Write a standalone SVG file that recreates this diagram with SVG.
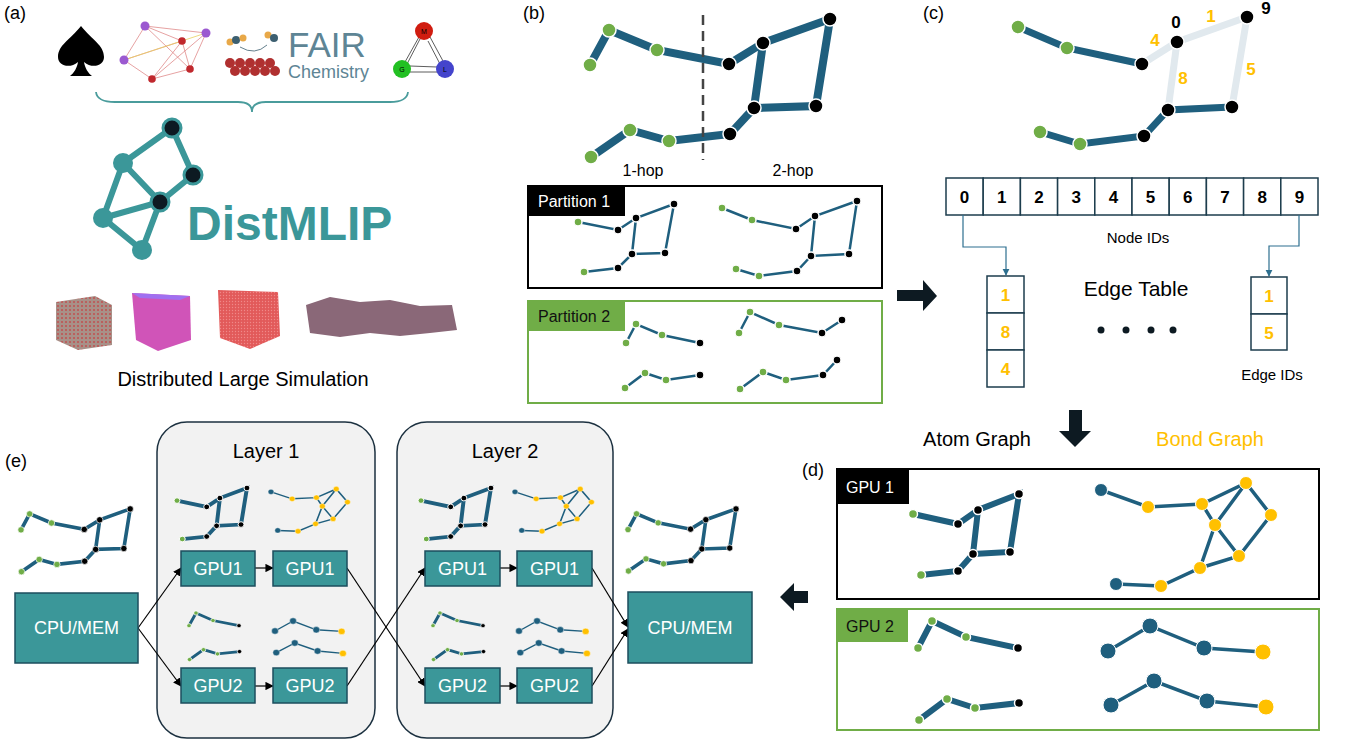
<svg xmlns="http://www.w3.org/2000/svg" xmlns:xlink="http://www.w3.org/1999/xlink" width="1360" height="742" viewBox="0 0 1360 742">
<style>
text{font-family:"Liberation Sans",Arial,sans-serif}
.e{stroke:#1f5f7e;fill:none;stroke-linecap:butt}
.le{stroke:#e1e9ee;fill:none}
.g{fill:#70ad47;stroke:#fff;stroke-width:1.5}
.k{fill:#000;stroke:#fff;stroke-width:1.5}
.y{fill:#ffc000;stroke:#fff;stroke-width:1}
.bn{fill:#1f5f7e;stroke:#fff;stroke-width:1}
.box{fill:#3b9799;stroke:#1d4e5e;stroke-width:1.5}
.bt{fill:#fff;font-size:18px;text-anchor:middle}
.lay{fill:#f2f2f2;stroke:#1c3140;stroke-width:1.5}
.cell{fill:#fff;stroke:#1d3d4d;stroke-width:1.5}
.num{font-size:17px;font-weight:bold;text-anchor:middle}
.on{fill:#ffc000}
.ar{stroke:#000;stroke-width:1.2;fill:none}
</style>
<defs>
<marker id="ah" viewBox="0 0 10 10" refX="9" refY="5" markerWidth="7" markerHeight="7" orient="auto"><path d="M0,0L10,5L0,10z" fill="#000"/></marker>
<marker id="ahb" viewBox="0 0 10 10" refX="9" refY="5" markerWidth="6" markerHeight="6" orient="auto"><path d="M0,0L10,5L0,10z" fill="#2d6f8f"/></marker>
<pattern id="dots1" width="4" height="4" patternUnits="userSpaceOnUse"><rect width="4" height="4" fill="#a89088"/><circle cx="2" cy="2" r="1" fill="#c05050"/></pattern>
<pattern id="dots3" width="3" height="3" patternUnits="userSpaceOnUse"><rect width="3" height="3" fill="#e25a5a"/><circle cx="1.5" cy="1.5" r="0.7" fill="#f08888"/></pattern>
<g id="full">
<polyline class="e" stroke-width="8" points="590,65 609,30 657,50 729,64 763,43 830,19 816,106 754,108 763,43"/>
<polyline class="e" stroke-width="8" points="754,108 730,134 669,141 630,130 591,157"/>
<circle class="g" cx="590" cy="65" r="7"/><circle class="g" cx="609" cy="30" r="7"/><circle class="g" cx="657" cy="50" r="7"/>
<circle class="k" cx="729" cy="64" r="7"/><circle class="k" cx="763" cy="43" r="7"/><circle class="k" cx="830" cy="19" r="7"/><circle class="k" cx="816" cy="106" r="7"/><circle class="k" cx="754" cy="108" r="7"/><circle class="k" cx="730" cy="134" r="7"/>
<circle class="g" cx="669" cy="141" r="7"/><circle class="g" cx="630" cy="130" r="7"/><circle class="g" cx="591" cy="157" r="7"/>
</g>
<g id="atom1">
<polyline class="e" stroke-width="6" points="913,514 958,524 978,510 1019,494 1010,552 973,554 978,510"/>
<polyline class="e" stroke-width="6" points="973,554 958,571 921,575"/>
<circle class="g" cx="913" cy="514" r="4.5"/><circle class="g" cx="921" cy="575" r="4.5"/>
<circle class="k" cx="958" cy="524" r="4.5"/><circle class="k" cx="978" cy="510" r="4.5"/><circle class="k" cx="1019" cy="494" r="4.5"/><circle class="k" cx="1010" cy="552" r="4.5"/><circle class="k" cx="973" cy="554" r="4.5"/><circle class="k" cx="958" cy="571" r="4.5"/>
</g>
<g id="bond1">
<path class="e" stroke-width="3.5" d="M1101,490L1148,507L1202,504L1246,483L1271,515L1239,556L1200,568L1161,586L1116,584M1202,504L1215,525L1246,483M1215,525L1239,556M1215,525L1200,568"/>
<circle class="bn" cx="1101" cy="490" r="6.5"/><circle class="bn" cx="1116" cy="584" r="6.5"/>
<circle class="y" cx="1148" cy="507" r="6.5"/><circle class="y" cx="1202" cy="504" r="6.5"/><circle class="y" cx="1246" cy="483" r="6.5"/><circle class="y" cx="1271" cy="515" r="6.5"/><circle class="y" cx="1215" cy="525" r="6.5"/><circle class="y" cx="1239" cy="556" r="6.5"/><circle class="y" cx="1200" cy="568" r="6.5"/><circle class="y" cx="1161" cy="586" r="6.5"/>
</g>
<g id="atom2">
<polyline class="e" stroke-width="6" points="918,648 932,621 966,637 1018,648"/>
<polyline class="e" stroke-width="6" points="919,720 947,699 975,708 1019,703"/>
<circle class="g" cx="918" cy="648" r="4.5"/><circle class="g" cx="932" cy="621" r="4.5"/><circle class="g" cx="966" cy="637" r="4.5"/><circle class="k" cx="1018" cy="648" r="4.5"/>
<circle class="g" cx="919" cy="720" r="4.5"/><circle class="g" cx="947" cy="699" r="4.5"/><circle class="g" cx="975" cy="708" r="4.5"/><circle class="k" cx="1019" cy="703" r="4.5"/>
</g>
<g id="bond2">
<polyline class="e" stroke-width="3.5" points="1108,651 1150,626 1204,648 1263,652"/>
<polyline class="e" stroke-width="3.5" points="1111,705 1154,681 1207,701 1266,707"/>
<circle class="bn" cx="1108" cy="651" r="8"/><circle class="bn" cx="1150" cy="626" r="8"/><circle class="bn" cx="1204" cy="648" r="8"/><circle class="y" cx="1263" cy="652" r="8"/>
<circle class="bn" cx="1111" cy="705" r="8"/><circle class="bn" cx="1154" cy="681" r="8"/><circle class="bn" cx="1207" cy="701" r="8"/><circle class="y" cx="1266" cy="707" r="8"/>
</g>
</defs>

<g id="panel-a">
<text x="4" y="19" font-size="18">(a)</text>
<path d="M81,26C70,40 58,45 58,57C58,66 70,69 78,62C77,68 74,73 70,76L92,76C88,73 85,68 84,62C92,69 104,66 104,57C104,45 92,40 81,26Z" fill="#000"/>
<g stroke-width="0.8">
<path d="M145,26L206,33M145,26L182,41M145,26L190,69M206,33L152,79M206,33L190,69M124,60L182,41M124,60L152,79M182,41L152,79M182,41L190,69M152,79L190,69M145,26L124,60" stroke="#e08a8a"/>
<path d="M124,60L206,33" stroke="#e8d060"/>
<g fill="#9b59d0"><circle cx="145" cy="26" r="4.5"/><circle cx="206" cy="33" r="4.5"/><circle cx="124" cy="60" r="4.5"/></g>
<g fill="#c0282d"><circle cx="182" cy="41" r="3.8"/><circle cx="190" cy="69" r="3.8"/><circle cx="152" cy="79" r="3.8"/></g>
</g>
<g>
<g fill="#b03030"><circle cx="230" cy="63" r="5"/><circle cx="240" cy="63" r="5"/><circle cx="250" cy="63" r="5"/><circle cx="260" cy="63" r="5"/><circle cx="270" cy="63" r="5"/><circle cx="235" cy="71" r="5"/><circle cx="245" cy="71" r="5"/><circle cx="255" cy="71" r="5"/><circle cx="265" cy="71" r="5"/><circle cx="275" cy="71" r="5"/></g>
<circle cx="230" cy="42" r="3.5" fill="#e8a848"/><circle cx="236" cy="40" r="4" fill="#3c5f70"/><circle cx="243" cy="38" r="3.5" fill="#e8a848"/>
<circle cx="268" cy="35" r="3.5" fill="#e8a848"/><circle cx="274" cy="38" r="4" fill="#3c5f70"/>
<path d="M240,47Q255,56 267,45" stroke="#3c5f70" fill="none" stroke-width="0.8"/>
<text x="288" y="57" font-size="35" fill="#5e8595">FAIR</text>
<text x="288" y="78" font-size="18" fill="#5e8595">Chemistry</text>
</g>
<g>
<path d="M419,37L405,62M407,64L420,39M430,37L443,61M428,41L440,64M410,66L437,67M437,72L410,72" stroke="#333" stroke-width="0.8"/>
<circle cx="424" cy="31" r="9" fill="#d01c10"/><text x="424" y="34" font-size="7" text-anchor="middle">M</text>
<circle cx="402" cy="69" r="9" fill="#22c022"/><text x="402" y="72" font-size="7" text-anchor="middle">G</text>
<circle cx="445" cy="69" r="9" fill="#4444cc"/><text x="445" y="72" font-size="7" text-anchor="middle">L</text>
</g>
<path d="M96,92Q97,102 115,102L238,102Q252,102 252,112Q252,102 266,102L390,102Q407,102 408,92" fill="none" stroke="#4a9c9c" stroke-width="1.8"/>
<g id="logo">
<path d="M172,128L123,163L103,218L142,250L160,202L193,175L172,128M123,163L160,202L103,218" fill="none" stroke="#3b9799" stroke-width="6"/>
<circle cx="123" cy="163" r="10" fill="#3b9799"/><circle cx="103" cy="218" r="10" fill="#3b9799"/><circle cx="142" cy="250" r="10" fill="#3b9799"/>
<circle cx="172" cy="128" r="9" fill="#0d1a22" stroke="#3b9799" stroke-width="3"/><circle cx="193" cy="175" r="9" fill="#0d1a22" stroke="#3b9799" stroke-width="3"/><circle cx="160" cy="202" r="9" fill="#0d1a22" stroke="#3b9799" stroke-width="3"/>
<text x="187" y="240" font-size="48" font-weight="bold" fill="#3b9799">DistMLIP</text>
</g>
<g>
<polygon points="56,302 95,296 112,305 112,345 78,350 56,340" fill="url(#dots1)"/>
<polygon points="132,293 190,296 191,340 158,351 136,340" fill="#d054b8"/>
<polygon points="132,293 190,296 180,300 140,298" fill="#a070f0"/>
<polygon points="218,290 278,292 280,336 250,349 220,338" fill="url(#dots3)"/>
<path d="M306,305L330,297L360,302L390,300L420,306L452,305L457,330L430,333L400,336L370,333L340,337L310,333Z" fill="#8a6878"/>
</g>
<text x="243" y="386" font-size="20" text-anchor="middle">Distributed Large Simulation</text>
</g>

<g id="panel-b">
<text x="523" y="19" font-size="18">(b)</text>
<use xlink:href="#full"/>
<line x1="703" y1="15" x2="703" y2="160" stroke="#444" stroke-width="2.5" stroke-dasharray="10,6"/>
<text x="643" y="176" font-size="16" text-anchor="middle">1-hop</text>
<text x="793" y="176" font-size="16" text-anchor="middle">2-hop</text>
<rect x="528" y="186" width="354" height="102" fill="#fff" stroke="#000" stroke-width="2"/>
<rect x="528" y="186" width="97" height="30" fill="#000"/>
<text x="538" y="207" font-size="16" fill="#fff">Partition 1</text>
<g class="e" stroke-width="2.5">
<polyline points="578,222 618,230 636,218 674,204 665,253 632,254 636,218"/><polyline points="632,254 618,268 584,272"/>
<polyline points="722,208 752,220 796,229 815,216 857,201 849,254 811,256 815,216"/><polyline points="811,256 797,271 759,276 736,269"/>
</g>
<g>
<circle class="g" cx="578" cy="222" r="4"/><circle class="k" cx="618" cy="230" r="4"/><circle class="k" cx="636" cy="218" r="4"/><circle class="k" cx="674" cy="204" r="4"/><circle class="k" cx="665" cy="253" r="4"/><circle class="k" cx="632" cy="254" r="4"/><circle class="k" cx="618" cy="268" r="4"/><circle class="g" cx="584" cy="272" r="4"/>
<circle class="g" cx="722" cy="208" r="4"/><circle class="g" cx="752" cy="220" r="4"/><circle class="k" cx="796" cy="229" r="4"/><circle class="k" cx="815" cy="216" r="4"/><circle class="k" cx="857" cy="201" r="4"/><circle class="k" cx="849" cy="254" r="4"/><circle class="k" cx="811" cy="256" r="4"/><circle class="k" cx="797" cy="271" r="4"/><circle class="g" cx="759" cy="276" r="4"/><circle class="g" cx="736" cy="269" r="4"/>
</g>
<rect x="528" y="301" width="354" height="102" fill="#fff" stroke="#70ad47" stroke-width="2"/>
<rect x="528" y="301" width="97" height="30" fill="#70ad47"/>
<text x="538" y="322" font-size="16" fill="#111">Partition 2</text>
<g class="e" stroke-width="2.5">
<polyline points="626,343 636,324 662,335 700,343"/><polyline points="625,388 645,373 666,380 700,375"/>
<polyline points="739,333 750,312 779,325 822,333 842,320"/><polyline points="740,389 763,372 786,380 823,375 837,360"/>
</g>
<g>
<circle class="g" cx="626" cy="343" r="4"/><circle class="g" cx="636" cy="324" r="4"/><circle class="g" cx="662" cy="335" r="4"/><circle class="k" cx="700" cy="343" r="4"/>
<circle class="g" cx="625" cy="388" r="4"/><circle class="g" cx="645" cy="373" r="4"/><circle class="g" cx="666" cy="380" r="4"/><circle class="k" cx="700" cy="375" r="4"/>
<circle class="g" cx="739" cy="333" r="4"/><circle class="g" cx="750" cy="312" r="4"/><circle class="g" cx="779" cy="325" r="4"/><circle class="k" cx="822" cy="333" r="4"/><circle class="k" cx="842" cy="320" r="4"/>
<circle class="g" cx="740" cy="389" r="4"/><circle class="g" cx="763" cy="372" r="4"/><circle class="g" cx="786" cy="380" r="4"/><circle class="k" cx="823" cy="375" r="4"/><circle class="k" cx="837" cy="360" r="4"/>
</g>
</g>
<path d="M897,290L923,290L923,280L937,296L923,311L923,301L897,301Z" fill="#0d1a22"/>

<g id="panel-c">
<text x="923" y="19" font-size="18">(c)</text>
<g class="le" stroke-width="7">
<polyline points="1142,64 1177,42 1247,17 1232,107"/><line x1="1177" y1="42" x2="1168" y2="110"/>
</g>
<g class="e" stroke-width="7">
<polyline points="1018,27 1067,48 1142,64"/><polyline points="1232,107 1168,110 1144,136 1080,144 1040,132"/>
</g>
<circle class="g" cx="1018" cy="27" r="7"/><circle class="g" cx="1067" cy="48" r="7"/><circle class="k" cx="1142" cy="64" r="7"/><circle class="k" cx="1177" cy="42" r="7"/><circle class="k" cx="1247" cy="17" r="7"/><circle class="k" cx="1232" cy="107" r="7"/><circle class="k" cx="1168" cy="110" r="7"/><circle class="k" cx="1144" cy="136" r="7"/><circle class="g" cx="1080" cy="144" r="7"/><circle class="g" cx="1040" cy="132" r="7"/>
<text x="1176" y="28" class="num">0</text><text x="1266" y="14" class="num">9</text>
<text x="1155" y="46" class="num on">4</text><text x="1211" y="22" class="num on">1</text><text x="1183" y="84" class="num on">8</text><text x="1251" y="75" class="num on">5</text>
<g>
<rect class="cell" x="946" y="178" width="37.2" height="37"/><rect class="cell" x="983.2" y="178" width="37.2" height="37"/><rect class="cell" x="1020.4" y="178" width="37.2" height="37"/><rect class="cell" x="1057.6" y="178" width="37.2" height="37"/><rect class="cell" x="1094.8" y="178" width="37.2" height="37"/><rect class="cell" x="1132" y="178" width="37.2" height="37"/><rect class="cell" x="1169.2" y="178" width="37.2" height="37"/><rect class="cell" x="1206.4" y="178" width="37.2" height="37"/><rect class="cell" x="1243.6" y="178" width="37.2" height="37"/><rect class="cell" x="1280.8" y="178" width="37.2" height="37"/>
<text class="num" y="203"><tspan x="964.6">0</tspan><tspan x="1001.8">1</tspan><tspan x="1039">2</tspan><tspan x="1076.2">3</tspan><tspan x="1113.4">4</tspan><tspan x="1150.6">5</tspan><tspan x="1187.8">6</tspan><tspan x="1225">7</tspan><tspan x="1262.2">8</tspan><tspan x="1299.4">9</tspan></text>
</g>
<text x="1138" y="243" font-size="15" text-anchor="middle">Node IDs</text>
<g stroke="#2d6f8f" stroke-width="1.2" fill="none">
<polyline points="963,215 963,247 1006,247 1006,275" marker-end="url(#ahb)"/>
<polyline points="1299,215 1299,246 1269,246 1269,276" marker-end="url(#ahb)"/>
</g>
<rect class="cell" x="987" y="276" width="37" height="37"/><rect class="cell" x="987" y="313" width="37" height="37"/><rect class="cell" x="987" y="350" width="37" height="37"/>
<text class="num on" x="1005.5" y="301">1</text><text class="num on" x="1005.5" y="338">8</text><text class="num on" x="1005.5" y="375">4</text>
<rect class="cell" x="1251" y="277" width="36" height="37"/><rect class="cell" x="1251" y="314" width="36" height="36"/>
<text class="num on" x="1269" y="302">1</text><text class="num on" x="1269" y="339">5</text>
<text x="1136" y="296" font-size="21" text-anchor="middle">Edge Table</text>
<g fill="#0d1a22"><circle cx="1101" cy="330" r="3.5"/><circle cx="1126" cy="330" r="3.5"/><circle cx="1151" cy="330" r="3.5"/><circle cx="1173" cy="330" r="3.5"/></g>
<text x="1272" y="380" font-size="15" text-anchor="middle">Edge IDs</text>
</g>
<path d="M1069,410L1082,410L1082,431L1091,431L1075,447L1059,431L1069,431Z" fill="#0d1a22"/>

<g id="panel-d">
<text x="802" y="476" font-size="18">(d)</text>
<text x="977" y="446" font-size="20" text-anchor="middle">Atom Graph</text>
<text x="1210" y="446" font-size="20" text-anchor="middle" fill="#ffc000">Bond Graph</text>
<rect x="837" y="469" width="482" height="130" fill="#fff" stroke="#000" stroke-width="2"/>
<rect x="837" y="469" width="72" height="35" fill="#000"/>
<text x="846" y="493" font-size="16" fill="#fff">GPU 1</text>
<use xlink:href="#atom1"/><use xlink:href="#bond1"/>
<rect x="837" y="609" width="482" height="121" fill="#fff" stroke="#70ad47" stroke-width="2"/>
<rect x="837" y="609" width="71" height="33" fill="#70ad47"/>
<text x="846" y="632" font-size="16" fill="#111">GPU 2</text>
<use xlink:href="#atom2"/><use xlink:href="#bond2"/>
</g>
<path d="M808,591L794,591L794,583L780,597L794,611L794,603L808,603Z" fill="#0d1a22"/>

<g id="panel-e">
<text x="5" y="467" font-size="18">(e)</text>
<use xlink:href="#full" transform="translate(21,508) scale(0.455) translate(-590,-17)"/>
<use xlink:href="#full" transform="translate(628,508) scale(0.45) translate(-590,-17)"/>
<rect class="lay" x="157" y="422" width="218" height="316" rx="30"/>
<rect class="lay" x="397" y="422" width="216" height="316" rx="30"/>
<text x="266" y="458" font-size="20" text-anchor="middle">Layer 1</text>
<text x="505" y="458" font-size="20" text-anchor="middle">Layer 2</text>
<use xlink:href="#atom1" transform="translate(177,488) scale(0.66,0.63) translate(-913,-494)"/>
<use xlink:href="#bond1" transform="translate(271,489) scale(0.45,0.41) translate(-1101,-483)"/>
<use xlink:href="#atom2" transform="translate(189,613) scale(0.5,0.47) translate(-918,-621)"/>
<use xlink:href="#bond2" transform="translate(275,621) scale(0.43,0.4) translate(-1108,-626)"/>
<use xlink:href="#atom1" transform="translate(421,488) scale(0.66,0.63) translate(-913,-494)"/>
<use xlink:href="#bond1" transform="translate(515,489) scale(0.45,0.41) translate(-1101,-483)"/>
<use xlink:href="#atom2" transform="translate(433,613) scale(0.5,0.47) translate(-918,-621)"/>
<use xlink:href="#bond2" transform="translate(519,621) scale(0.43,0.4) translate(-1108,-626)"/>
</g>
<g id="connectors">
<line class="ar" x1="138" y1="628" x2="181" y2="568" marker-end="url(#ah)"/>
<line class="ar" x1="138" y1="628" x2="181" y2="686" marker-end="url(#ah)"/>
<line class="ar" x1="255" y1="568" x2="273" y2="568" marker-end="url(#ah)"/>
<line class="ar" x1="255" y1="686" x2="273" y2="686" marker-end="url(#ah)"/>
<line class="ar" x1="347" y1="568" x2="425" y2="686" marker-end="url(#ah)"/>
<line class="ar" x1="347" y1="686" x2="425" y2="568" marker-end="url(#ah)"/>
<line class="ar" x1="500" y1="568" x2="517" y2="568" marker-end="url(#ah)"/>
<line class="ar" x1="500" y1="686" x2="517" y2="686" marker-end="url(#ah)"/>
<line class="ar" x1="592" y1="568" x2="628" y2="627" marker-end="url(#ah)"/>
<line class="ar" x1="592" y1="686" x2="628" y2="629" marker-end="url(#ah)"/>
</g>
<g id="n-cpu1"><rect class="box" x="15" y="593" width="123" height="70"/><text class="bt" x="76.5" y="634">CPU/MEM</text></g>
<g id="n-cpu2"><rect class="box" x="628" y="592" width="124" height="71"/><text class="bt" x="690" y="634">CPU/MEM</text></g>
<g id="n-l1g1a"><rect class="box" x="181" y="551" width="74" height="35"/><text class="bt" x="218" y="575">GPU1</text></g>
<g id="n-l1g1b"><rect class="box" x="273" y="551" width="74" height="35"/><text class="bt" x="310" y="575">GPU1</text></g>
<g id="n-l1g2a"><rect class="box" x="181" y="668" width="74" height="35"/><text class="bt" x="218" y="692">GPU2</text></g>
<g id="n-l1g2b"><rect class="box" x="273" y="668" width="74" height="35"/><text class="bt" x="310" y="692">GPU2</text></g>
<g id="n-l2g1a"><rect class="box" x="425" y="551" width="75" height="35"/><text class="bt" x="462.5" y="575">GPU1</text></g>
<g id="n-l2g1b"><rect class="box" x="517" y="551" width="75" height="35"/><text class="bt" x="554.5" y="575">GPU1</text></g>
<g id="n-l2g2a"><rect class="box" x="425" y="668" width="75" height="35"/><text class="bt" x="462.5" y="692">GPU2</text></g>
<g id="n-l2g2b"><rect class="box" x="517" y="668" width="75" height="35"/><text class="bt" x="554.5" y="692">GPU2</text></g>
</svg>
